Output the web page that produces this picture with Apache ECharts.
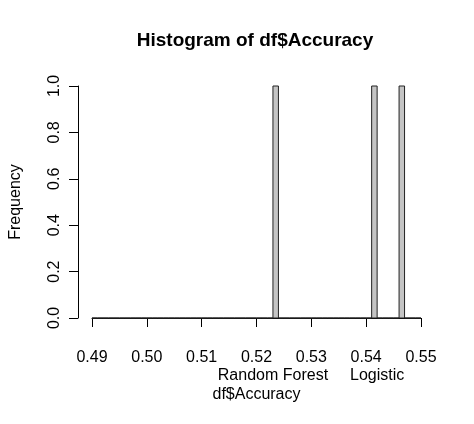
<!DOCTYPE html>
<html>
<head>
<meta charset="utf-8">
<title>Histogram of df$Accuracy</title>
<script src="https://cdn.jsdelivr.net/npm/echarts@6/dist/echarts.min.js"></script>
<style>
  html, body { margin: 0; padding: 0; background: #fff; }
  #main { width: 474px; height: 424px; }
</style>
</head>
<body>
<div id="main"></div>
<script>
// histogram bins: start, width and counts
var binStart = 0.49;
var binWidth = 0.001;
var counts = [
  0, 0, 0, 0, 0, 0, 0, 0, 0, 0,
  0, 0, 0, 0, 0, 0, 0, 0, 0, 0,
  0, 0, 0, 0, 0, 0, 0, 0, 0, 0,
  0, 0, 0, 1, 0, 0, 0, 0, 0, 0,
  0, 0, 0, 0, 0, 0, 0, 0, 0, 0,
  0, 1, 0, 0, 0, 0, 1, 0, 0, 0
];
var xTicks = [0.49, 0.50, 0.51, 0.52, 0.53, 0.54, 0.55];
var yTicks = [0.0, 0.2, 0.4, 0.6, 0.8, 1.0];
var modelNames = ['Random Forest', 'Logistic'];
var modelAccuracy = [0.5230, 0.5420];

var font = '"Liberation Sans", Arial, Helvetica, sans-serif';

var bins = counts.map(function (c, i) {
  return [binStart + i * binWidth, binStart + (i + 1) * binWidth, c];
});

var chart = echarts.init(document.getElementById('main'));

var option = {
  backgroundColor: '#fff',
  animation: false,
  textStyle: { fontFamily: font, color: '#000' },
  title: {
    text: 'Histogram of df$Accuracy',
    left: 250,
    top: 26,
    textAlign: 'center',
    textStyle: { fontFamily: font, fontSize: 19, fontWeight: 'bold', color: '#000' }
  },
  grid: { left: 91, right: 53, top: 86, bottom: 106 },
  xAxis: [
    {
      type: 'value',
      min: xTicks[0],
      max: xTicks[xTicks.length - 1],
      interval: 0.01,
      offset: 10,
      splitLine: { show: false },
      axisLine: { show: true, lineStyle: { color: '#000', width: 1 } },
      axisTick: { show: true, length: 9, lineStyle: { color: '#000' } },
      axisLabel: {
        margin: 22, fontSize: 16, color: '#000', fontFamily: font,
        showMinLabel: true, showMaxLabel: true,
        formatter: function (v) { return v.toFixed(2); }
      },
      name: 'df$Accuracy',
      nameLocation: 'middle',
      nameGap: 59,
      nameTextStyle: { fontSize: 16, color: '#000', fontFamily: font }
    },
    {
      type: 'value',
      position: 'bottom',
      min: xTicks[0],
      max: xTicks[xTicks.length - 1],
      offset: 10,
      splitLine: { show: false },
      axisLine: { show: false },
      axisTick: { show: false },
      axisLabel: {
        margin: 40, fontSize: 16, color: '#000', fontFamily: font,
        customValues: modelAccuracy,
        formatter: function (v) {
          var i = modelAccuracy.indexOf(v);
          return i >= 0 ? modelNames[i] : '';
        }
      }
    }
  ],
  yAxis: {
    type: 'value',
    min: 0,
    max: 1,
    interval: 0.2,
    offset: 14,
    splitLine: { show: false },
    axisLine: { show: true, lineStyle: { color: '#000', width: 1 } },
    axisTick: { show: true, length: 9, lineStyle: { color: '#000' } },
    axisLabel: {
      margin: 15, fontSize: 16, color: '#000', fontFamily: font, rotate: 90,
      formatter: function (v) { return v.toFixed(1); }
    },
    name: 'Frequency',
    nameLocation: 'middle',
    nameGap: 54,
    nameRotate: 90,
    nameTextStyle: { fontSize: 16, color: '#000', fontFamily: font }
  },
  series: [{
    type: 'custom',
    xAxisIndex: 0,
    data: bins,
    encode: { x: [0, 1], y: 2 },
    renderItem: function (params, api) {
      var p0 = api.coord([api.value(0), api.value(2)]);
      var p1 = api.coord([api.value(1), 0]);
      return {
        type: 'rect',
        shape: { x: p0[0], y: p0[1], width: p1[0] - p0[0], height: p1[1] - p0[1] },
        style: { fill: '#c4c4c4', stroke: '#222', lineWidth: 1 }
      };
    }
  }]
};

chart.setOption(option);
</script>
</body>
</html>
